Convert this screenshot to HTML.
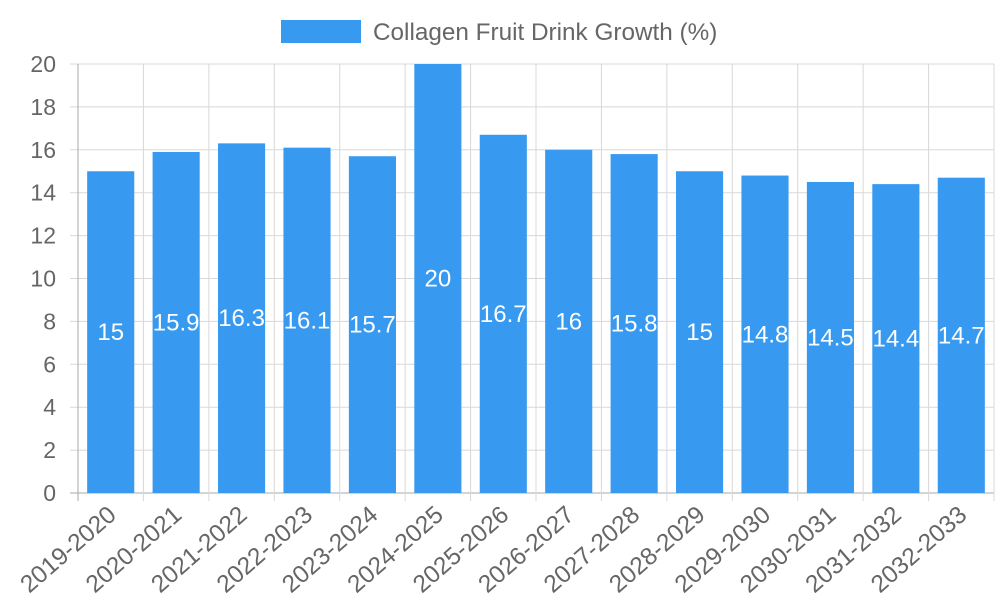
<!DOCTYPE html>
<html><head><meta charset="utf-8"><style>
body{margin:0;background:#fff;}
svg{display:block;font-family:"Liberation Sans",sans-serif;}
</style></head><body>
<svg id="chart" width="1000" height="600">
<g>
<rect x="281" y="20" width="80" height="23" fill="#379af0"></rect>
<text x="373" y="40" font-size="24.3" fill="#666">Collagen Fruit Drink Growth (%)</text>
</g>
<g id="grid"></g><g id="bars"></g><g id="axes"></g>
</svg>
<script>
const categories=["2019-2020","2020-2021","2021-2022","2022-2023","2023-2024","2024-2025","2025-2026","2026-2027","2027-2028","2028-2029","2029-2030","2030-2031","2031-2032","2032-2033"];
const values=[15,15.9,16.3,16.1,15.7,20,16.7,16,15.8,15,14.8,14.5,14.4,14.7];
const yTicks=[0,2,4,6,8,10,12,14,16,18,20];
const NS="http://www.w3.org/2000/svg";
const L=78,R=994,T=64,B=493,yMax=20;
const bw=(R-L)/categories.length;
const y=v=>B-(v/yMax)*(B-T);
const x=i=>L+bw*i;
function mk(tag,attrs,parent,txt){const e=document.createElementNS(NS,tag);for(const k in attrs)e.setAttribute(k,attrs[k]);if(txt!==undefined)e.textContent=txt;parent.appendChild(e);return e;}
const grid=document.getElementById('grid'),bars=document.getElementById('bars'),axes=document.getElementById('axes');
yTicks.forEach(t=>{
 const ln=mk('line',{x1:L-8,x2:R,y1:y(t),y2:y(t),stroke:t===0?'#aaa':'#d8d8d8','stroke-width':1},grid);
 
 
 const tx=mk('text',{x:L-22,y:y(t)+8,'text-anchor':'end','font-size':23,fill:'#666'},axes,t);
 
 
});
for(let i=0;i<=categories.length;i++){
 const ln=mk('line',{x1:x(i),x2:x(i),y1:T,y2:B+8,stroke:i===0?'#aaa':'#d8d8d8','stroke-width':1},grid);
 
 
}
categories.forEach((c,i)=>{
 const w=bw*0.72,cx=x(i)+bw/2;
 const r=mk('rect',{x:cx-w/2,y:y(values[i]),width:w,height:B-y(values[i]),fill:'#379af0'},bars);
 
 
 const v=mk('text',{x:cx,y:(y(values[i])+B)/2+8,'text-anchor':'middle','font-size':24,fill:'#fff'},bars,values[i]);
 
 
 const lx=cx+7,ly=B+24;
 const t=mk('text',{x:lx,y:ly,'text-anchor':'end','font-size':24.5,fill:'#666',transform:`rotate(-41 ${lx} ${ly})`},axes,c);
 
 
});
</script>
</body></html>
